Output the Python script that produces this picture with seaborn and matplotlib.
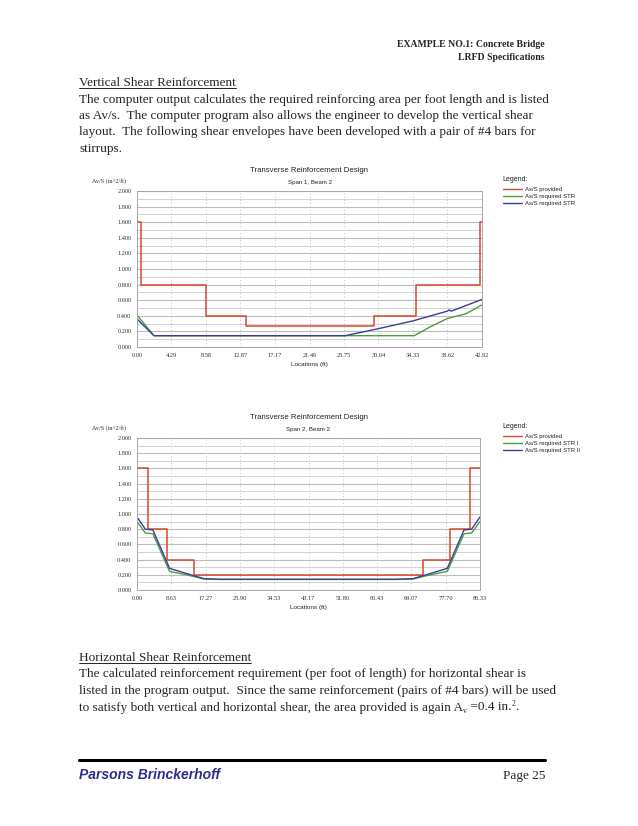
import matplotlib
matplotlib.use("Agg")
import matplotlib.pyplot as plt
import seaborn as sns
import pandas as pd
from matplotlib.lines import Line2D
from matplotlib.ticker import MultipleLocator

# span 1 data
span1_ticks = [0.00, 4.29, 8.58, 12.87, 17.17, 21.46, 25.75, 30.04, 34.33, 38.62, 42.92]
span1_prov_x = [0.0, 0.5, 8.58, 13.5, 29.5, 34.66, 42.7, 42.92]
span1_prov_y = [1.6, 0.8, 0.4, 0.267, 0.4, 0.8, 1.6, 1.6]
span1_req1_x = [0.0, 2.1, 34.5, 36.5, 38.6, 40.9, 42.92]
span1_req1_y = [0.41, 0.145, 0.145, 0.26, 0.365, 0.425, 0.54]
span1_req2_x = [0.0, 2.1, 25.9, 30.04, 34.33, 38.62, 38.8, 39.1, 42.92]
span1_req2_y = [0.36, 0.145, 0.145, 0.235, 0.335, 0.46, 0.475, 0.46, 0.61]

# span 2 data
span2_ticks = [0.00, 8.63, 17.27, 25.90, 34.53, 43.17, 51.80, 60.43, 69.07, 77.70, 86.33]
span2_prov_x = [0.0, 2.67, 7.5, 14.4, 71.9, 78.8, 83.7, 86.33]
span2_prov_y = [1.6, 0.8, 0.4, 0.2, 0.4, 0.8, 1.6, 1.6]
span2_req_x = [0.0, 2.1, 4.0, 8.2, 12.9, 16.8, 21.0, 65.3, 69.5, 73.4, 78.1, 82.3, 84.2, 86.33]
span2_req1_y = [0.90, 0.75, 0.74, 0.245, 0.195, 0.145, 0.14, 0.14, 0.145, 0.195, 0.245, 0.74, 0.75, 0.90]
span2_req2_y = [0.96, 0.80, 0.79, 0.285, 0.21, 0.15, 0.14, 0.14, 0.15, 0.21, 0.285, 0.79, 0.80, 0.96]

RED = "#d8482a"
GREEN = "#4a9e3a"
BLUE = "#3c3c9c"

sns.set_theme(style="white")
plt.rcParams["font.family"] = ["Liberation Serif", "DejaVu Serif"]

W, H = 638, 826
fig = plt.figure(figsize=(W / 100, H / 100), dpi=100)
fig.patch.set_facecolor("white")


def fx(px):
    return px / W


def fy(py):
    return 1 - py / H


def text_width(t):
    fig.canvas.draw()
    return t.get_window_extent().width


def underlined(x, y, s, size):
    t = fig.text(fx(x), fy(y), s, fontsize=size, ha="left", va="baseline")
    w = text_width(t)
    fig.add_artist(Line2D([fx(x), fx(x + w)], [fy(y + 1.8)] * 2, color="black", lw=0.6))


# header
fig.text(fx(545), fy(47), "EXAMPLE NO.1: Concrete Bridge", fontsize=7, weight="bold", ha="right", va="baseline")
fig.text(fx(545), fy(60), "LRFD Specifications", fontsize=7, weight="bold", ha="right", va="baseline")

body = 9.5
underlined(79, 86, "Vertical Shear Reinforcement", body)
para1 = [
    "The computer output calculates the required reinforcing area per foot length and is listed",
    "as Av/s.  The computer program also allows the engineer to develop the vertical shear",
    "layout.  The following shear envelopes have been developed with a pair of #4 bars for",
    "stirrups.",
]
for i, line in enumerate(para1):
    fig.text(fx(79), fy(102.5 + i * 16.5), line, fontsize=body, ha="left", va="baseline")

underlined(79, 661, "Horizontal Shear Reinforcement", body)
para2 = [
    "The calculated reinforcement requirement (per foot of length) for horizontal shear is",
    "listed in the program output.  Since the same reinforcement (pairs of #4 bars) will be used",
]
for i, line in enumerate(para2):
    fig.text(fx(79), fy(677.5 + i * 16.5), line, fontsize=body, ha="left", va="baseline")

# last line with subscript / superscript, placed piece by piece
yl = 677.5 + 2 * 16.5
xc = 79
pieces = [
    ("to satisfy both vertical and horizontal shear, the area provided is again A", body, 0),
    ("v", body * 0.6, 2.5),
    (" =0.4 in.", body, 0),
    ("2", body * 0.6, -5),
    (".", body, 0),
]
for s, size, dy in pieces:
    t = fig.text(fx(xc), fy(yl + dy), s, fontsize=size, ha="left", va="baseline")
    xc += text_width(t)

# footer
fig.add_artist(Line2D([fx(79), fx(545)], [fy(760)] * 2, color="black", lw=2.2))
fig.text(fx(79), fy(779), "Parsons Brinckerhoff", fontsize=10, weight="bold", style="italic",
         family=["Liberation Sans"], color="#2b2f8c", ha="left", va="baseline")
fig.text(fx(545), fy(779), "Page 25", fontsize=9.5, ha="right", va="baseline")


def draw_chart(box, ticks, span_label, prov, req1, req2, names):
    left, top, right, bottom = box
    ax = fig.add_axes([fx(left), fy(bottom), fx(right - left), (bottom - top) / H])
    ax.set_facecolor("white")

    df_p = pd.DataFrame({"x": prov[0], "y": prov[1]})
    sns.lineplot(data=df_p, x="x", y="y", ax=ax, color=RED, lw=1.1,
                 drawstyle="steps-post", estimator=None, sort=False)
    df_1 = pd.DataFrame({"x": req1[0], "y": req1[1]})
    sns.lineplot(data=df_1, x="x", y="y", ax=ax, color=GREEN, lw=1.0, estimator=None, sort=False)
    df_2 = pd.DataFrame({"x": req2[0], "y": req2[1]})
    sns.lineplot(data=df_2, x="x", y="y", ax=ax, color=BLUE, lw=1.0, estimator=None, sort=False)

    ax.set_xlim(ticks[0], ticks[-1])
    ax.set_ylim(0, 2.0)
    ax.set_xticks(ticks)
    ax.set_xticklabels([f"{t:.2f}" for t in ticks])
    ax.yaxis.set_major_locator(MultipleLocator(0.2))
    ax.yaxis.set_minor_locator(MultipleLocator(0.1))
    ax.yaxis.set_major_formatter(lambda v, p: f"{v:.3f}")
    ax.grid(axis="y", which="major", color="#bcbcbc", lw=0.8)
    ax.grid(axis="y", which="minor", color="#d2d2d2", lw=0.7)
    ax.grid(axis="x", which="major", color="#b0b0b0", lw=0.6, ls=(0, (1, 3)))
    ax.set_axisbelow(True)
    ax.tick_params(axis="both", which="both", labelsize=4.6, length=0, pad=4, colors="#333333")
    for s in ax.spines.values():
        s.set_color("#a8a8a8")
        s.set_linewidth(0.7)
    ax.set_xlabel("")
    ax.set_ylabel("")

    cx = (left + right) / 2
    fig.text(fx(cx), fy(top - 19), "Transverse Reinforcement Design", fontsize=5.6,
             family=["Liberation Sans"], ha="center", va="baseline", color="#222222")
    fig.text(fx(cx), fy(top - 7), span_label, fontsize=4.4,
             family=["Liberation Sans"], ha="center", va="baseline", color="#222222")
    fig.text(fx(92), fy(top - 8), "Av/S (in^2/ft)", fontsize=4.4,
             ha="left", va="baseline", color="#333333")
    fig.text(fx(cx), fy(bottom + 19), "Locations (ft)", fontsize=4.6,
             family=["Liberation Sans"], ha="center", va="baseline", color="#222222")

    # legend block to the right
    fig.text(fx(502), fy(top - 10), "Legend:", fontsize=5.0,
             family=["Liberation Sans"], ha="left", va="baseline", color="#222222")
    for i, (name, col) in enumerate(zip(names, [RED, GREEN, BLUE])):
        yy = top - 2 + i * 7
        fig.add_artist(Line2D([fx(503), fx(522)], [fy(yy)] * 2, color=col, lw=1.0))
        fig.text(fx(525), fy(yy + 1.8), name, fontsize=4.3,
                 family=["Liberation Sans"], ha="left", va="baseline", color="#222222")
    return ax


draw_chart((137, 191, 482, 347), span1_ticks, "Span 1, Beam 2",
           (span1_prov_x, span1_prov_y), (span1_req1_x, span1_req1_y), (span1_req2_x, span1_req2_y),
           ["As/S provided", "As/S required STR", "As/S required STR"])

draw_chart((137, 438, 480, 590), span2_ticks, "Span 2, Beam 2",
           (span2_prov_x, span2_prov_y), (span2_req_x, span2_req1_y), (span2_req_x, span2_req2_y),
           ["As/S provided", "As/S required STR I", "As/S required STR II"])

fig.savefig("out.png", dpi=100, facecolor="white")
